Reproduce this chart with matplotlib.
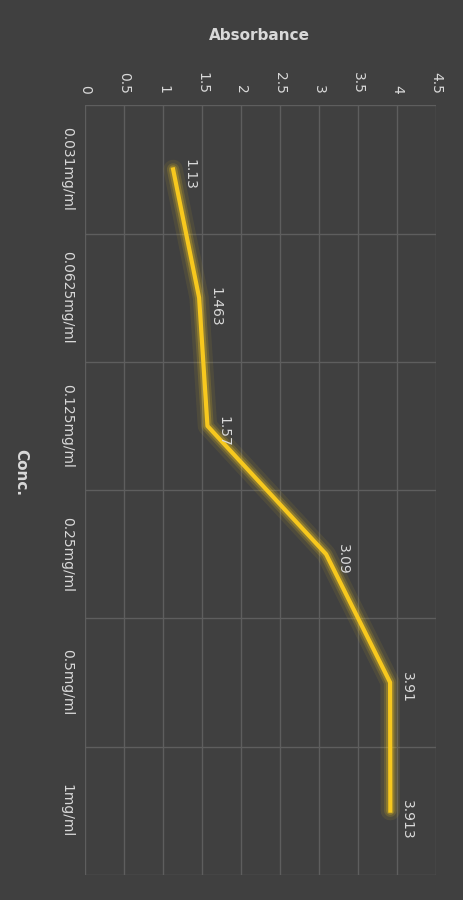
import matplotlib.pyplot as plt
import numpy as np

conc = ["0.031mg/ml", "0.0625mg/ml", "0.125mg/ml", "0.25mg/ml", "0.5mg/ml", "1mg/ml"]
absorbance = [1.13, 1.463, 1.57, 3.09, 3.91, 3.913]
labels = ["1.13", "1.463", "1.57", "3.09", "3.91", "3.913"]
xticks = [0, 0.5, 1, 1.5, 2, 2.5, 3, 3.5, 4, 4.5]

bg = "#404040"
txt = "#d9d9d9"
fig = plt.figure(figsize=(4.64, 9), dpi=100, facecolor=bg)
ax = fig.add_axes([0.183, 0.028, 0.757, 0.855], facecolor=bg)

pos = np.arange(len(conc))
for lw, a in [(14, 0.08), (9, 0.15), (6, 0.25)]:
    ax.plot(absorbance, pos, color="#ffd21f", lw=lw, alpha=a, solid_capstyle="round")
ax.plot(absorbance, pos, color="#f7c81e", lw=3)

for x, y, s in zip(absorbance, pos, labels):
    ax.text(x + 0.12, y - 0.08, s, rotation=-90, color=txt, fontsize=10,
            ha="left", va="top")

ax.set_xlim(0, 4.5)
ax.set_ylim(len(conc) - 0.5, -0.5)
ax.xaxis.tick_top()
ax.set_xticks(xticks)
ax.set_xticklabels([f"{v:g}" for v in xticks], rotation=-90, color=txt, fontsize=10)
ax.set_yticks(pos)
ax.set_yticklabels(conc, rotation=-90, color=txt, fontsize=10, va="center")
ax.set_yticks(np.arange(-0.5, len(conc)), minor=True)
ax.tick_params(which="both", length=0, pad=8)
ax.grid(axis="x", color="#5e5e5e", lw=1)
ax.grid(axis="y", which="minor", color="#5e5e5e", lw=1)
for s in ax.spines.values():
    s.set_visible(False)

fig.text(0.56, 0.96, "Absorbance", color=txt, fontsize=11, fontweight="bold",
         ha="center", va="center")
fig.text(0.045, 0.475, "Conc.", color=txt, fontsize=11, fontweight="bold",
         rotation=-90, ha="center", va="center")

fig.savefig("out.png", facecolor=bg)
